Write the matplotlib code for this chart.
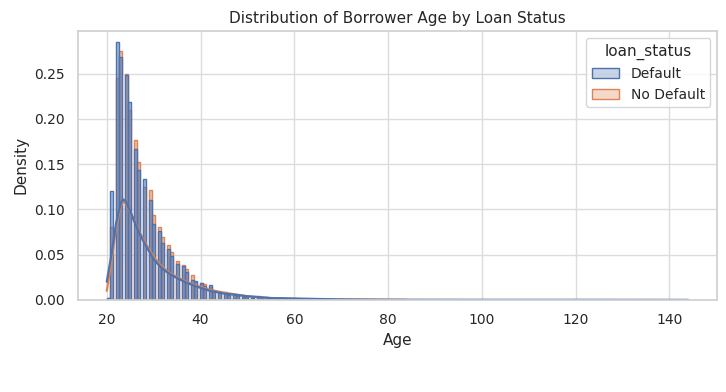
import numpy as np
import matplotlib
matplotlib.use("Agg")
from matplotlib import pyplot as plt
from matplotlib.patches import Patch
import seaborn as sns

# histogram density per age
ages = list(range(20, 61)) + [62, 64, 66, 70, 73, 80, 94, 123, 144]
default_dens = [0.002, 0.120, 0.285, 0.268, 0.248, 0.218, 0.167, 0.143, 0.133, 0.110,
                0.084, 0.076, 0.063, 0.056, 0.048, 0.040, 0.037, 0.031, 0.022, 0.021,
                0.019, 0.015, 0.016, 0.010, 0.008, 0.007, 0.005, 0.006, 0.005, 0.003,
                0.003, 0.002, 0.004, 0.002, 0.002, 0.002, 0.001, 0.001, 0.001, 0.001,
                0.002, 0.001, 0.001, 0.0007, 0.0005, 0.0004, 0.0003, 0.0003, 0.0003, 0.0003]
nodefault_dens = [0.002, 0.080, 0.245, 0.275, 0.250, 0.210, 0.177, 0.152, 0.125, 0.121,
                  0.094, 0.081, 0.069, 0.061, 0.053, 0.043, 0.039, 0.034, 0.028, 0.020,
                  0.019, 0.018, 0.014, 0.011, 0.009, 0.009, 0.007, 0.006, 0.004, 0.003,
                  0.003, 0.002, 0.002, 0.002, 0.001, 0.001, 0.001, 0.001, 0.001, 0.0007,
                  0.001, 0.0005, 0.0005, 0.0003, 0.0003, 0.0002, 0.0002, 0.0, 0.0, 0.0]

# kde curves
kde_default_x = [20, 21, 22, 23, 23.5, 24, 25, 26, 27, 28, 29, 30, 31, 32, 33, 35, 37, 39,
                 42, 45, 50, 55, 60, 70, 80, 100, 120, 144]
kde_default_y = [0.020, 0.050, 0.085, 0.107, 0.111, 0.109, 0.098, 0.085, 0.073, 0.063, 0.054,
                 0.045, 0.039, 0.034, 0.030, 0.024, 0.019, 0.015, 0.010, 0.007, 0.004, 0.002,
                 0.0015, 0.0005, 0.0002, 0.0001, 0.0001, 0.0]
kde_nodefault_x = [20, 21, 22, 23, 23.5, 24, 25, 26, 27, 28, 29, 30, 31, 32, 33, 35, 37, 39,
                   42, 45, 50, 55, 60, 70, 84]
kde_nodefault_y = [0.010, 0.042, 0.080, 0.104, 0.108, 0.107, 0.097, 0.086, 0.075, 0.065, 0.056,
                   0.048, 0.041, 0.036, 0.031, 0.025, 0.020, 0.016, 0.011, 0.008, 0.004, 0.002,
                   0.001, 0.0004, 0.0]

labels = ["Default", "No Default"]

sns.set_theme(style="whitegrid", rc={"grid.color": "#dcdcdc", "axes.edgecolor": "#d0d0d0"})
blue, orange = sns.color_palette("deep")[0], sns.color_palette("deep")[1]

fig = plt.figure(figsize=(7.26, 3.92), dpi=100)
ax = fig.add_axes([0.107, 0.235, 0.881, 0.686])

edges = np.linspace(20, 144, 195)
# orange drawn first, blue on top (seaborn draws hue levels reversed)
ax.hist(ages, bins=edges, weights=nodefault_dens, facecolor=(*orange, 0.5),
        edgecolor=orange, linewidth=1.0)
ax.hist(ages, bins=edges, weights=default_dens, facecolor=(*blue, 0.5),
        edgecolor=blue, linewidth=1.0)
ax.plot(kde_nodefault_x, kde_nodefault_y, color=orange, lw=1.6)
ax.plot(kde_default_x, kde_default_y, color=blue, lw=1.6)

ax.set_xlim(13.8, 150.2)
ax.set_ylim(0, 0.297)
ax.set_title("Distribution of Borrower Age by Loan Status", fontsize=11)
ax.set_xlabel("Age", fontsize=11)
ax.set_ylabel("Density", fontsize=11)
ax.tick_params(labelsize=10)

handles = [Patch(facecolor=(*blue, 0.3), edgecolor=blue),
           Patch(facecolor=(*orange, 0.3), edgecolor=orange)]
ax.legend(handles, labels, title="loan_status", loc="upper right",
          fontsize=10, title_fontsize=11)

fig.savefig("out.png")
